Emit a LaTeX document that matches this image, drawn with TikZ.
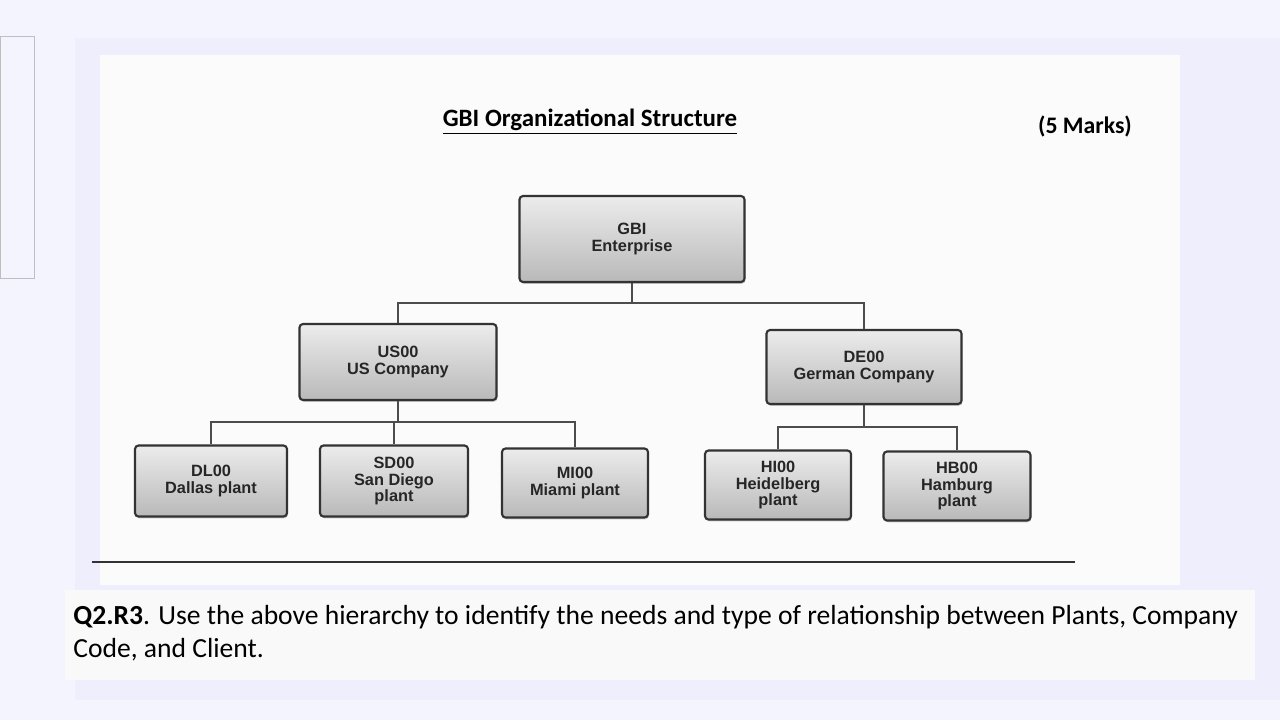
\documentclass[tikz,border=0pt]{standalone}
\usepackage{fontspec}
\setmainfont{Liberation Sans}
\newfontfamily\calfnt{Carlito}
\usetikzlibrary{shadows}
\begin{document}
\begin{tikzpicture}[x=0.02cm,y=-0.02cm,
 box/.style={draw=black!80,line width=1.2pt,rounded corners=2pt,top color=gray!15,bottom color=gray!55,
   font=\fontsize{9.3}{9.6}\selectfont\bfseries,text=black!85,align=center,inner sep=1pt,
   drop shadow={shadow xshift=0.5pt,shadow yshift=-1pt,opacity=0.4}},
 conn/.style={draw=gray!60!black,line width=1.3pt}]
\useasboundingbox (0,0) rectangle (1280,720);
\fill[gray!20!blue!5!white] (0,0) rectangle (1280,720);
\fill[gray!30!blue!8!white] (75,38) rectangle (1280,700);
\fill[gray!3] (100,55) rectangle (1180,585);
\fill[gray!5] (65,590) rectangle (1255,680);
\draw[gray!50] (0,36) rectangle (34,278);
\node[font=\calfnt\fontsize{14.2}{15}\selectfont\bfseries] (title) at (590,122) {\underline{GBI Organizational Structure}};
\node[font=\calfnt\fontsize{13.5}{14}\selectfont\bfseries] (marks) at (1085,126) {(5 Marks)};
\node[box,minimum width=225*0.02cm,minimum height=86*0.02cm] (gbi) at (632,239) {GBI\\Enterprise};
\node[box,minimum width=197*0.02cm,minimum height=76*0.02cm] (us) at (398,362) {US00\\US Company};
\node[box,minimum width=195*0.02cm,minimum height=74*0.02cm] (de) at (864,367) {DE00\\German Company};
\node[box,minimum width=152*0.02cm,minimum height=71*0.02cm] (dl) at (211,481) {DL00\\Dallas plant};
\node[box,minimum width=148*0.02cm,minimum height=71*0.02cm] (sd) at (394,481) {SD00\\San Diego\\plant};
\node[box,minimum width=146*0.02cm,minimum height=69*0.02cm] (mi) at (575,483) {MI00\\Miami plant};
\node[box,minimum width=146*0.02cm,minimum height=69*0.02cm] (hi) at (778,485) {HI00\\Heidelberg\\plant};
\node[box,minimum width=147*0.02cm,minimum height=69*0.02cm] (hb) at (957,486) {HB00\\Hamburg\\plant};
\coordinate (j1) at (632,303);
\coordinate (j2) at (398,422);
\coordinate (j3) at (864,427);
\draw[conn] (gbi.south) -- (j1);
\draw[conn] (j1) -| (us.north);
\draw[conn] (j1) -| (de.north);
\draw[conn] (us.south) -- (j2);
\draw[conn] (j2) -| (dl.north);
\draw[conn] (j2) -| (sd.north);
\draw[conn] (j2) -| (mi.north);
\draw[conn] (de.south) -- (j3);
\draw[conn] (j3) -| (hi.north);
\draw[conn] (j3) -| (hb.north);
\coordinate (la) at (92,562); \coordinate (lb) at (1075,562);
\draw[black!80,line width=0.7pt] (la) -- (lb);
\node[font=\calfnt\fontsize{15.7}{19}\selectfont,anchor=north west,align=left,inner sep=0pt] (q) at (73,605)
 {\textbf{Q2.R3}. Use the above hierarchy to identify the needs and type of relationship between Plants, Company\\Code, and Client.};
\end{tikzpicture}
\end{document}
